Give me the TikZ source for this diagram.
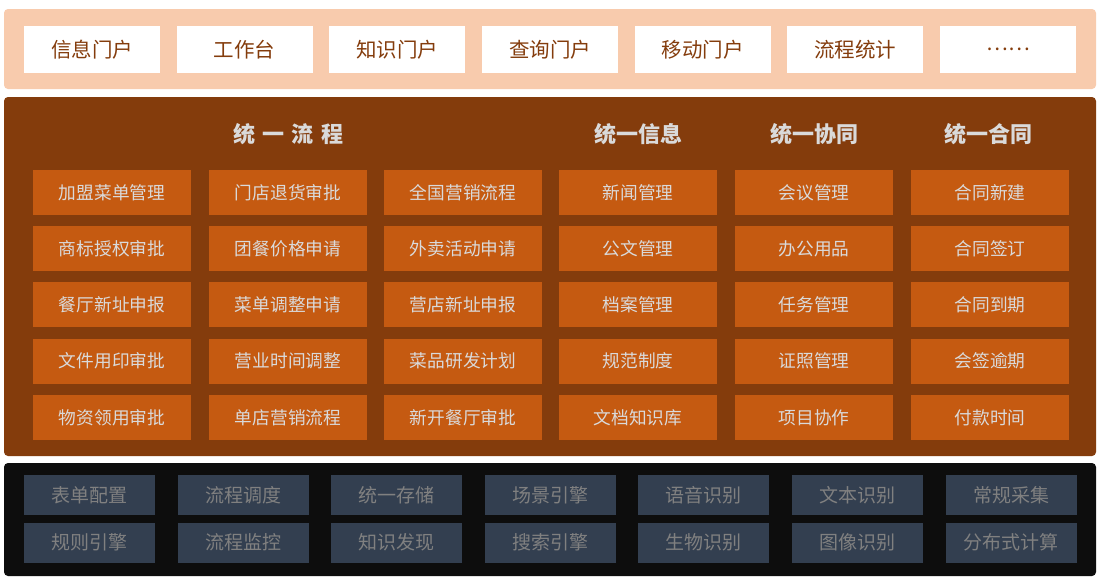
\documentclass[tikz,border=0pt]{standalone}
\usepackage{fontspec}
\setmainfont{Noto Sans CJK SC}
\definecolor{topband}{HTML}{F8CBAD}
\definecolor{brown}{HTML}{843C0C}
\definecolor{orangebox}{HTML}{C55A11}
\definecolor{lighttext}{HTML}{DADADA}
\definecolor{darkband}{HTML}{0D0D0D}
\definecolor{slatebox}{HTML}{333F50}
\definecolor{graytext}{HTML}{808080}
\begin{document}
\begin{tikzpicture}[x=1pt,y=-1pt,
  band/.style={rounded corners=4pt},
  topbox/.style={fill=white,minimum width=136pt,minimum height=47pt,inner sep=0pt,text=brown,font=\fontsize{20.5}{20.5}\selectfont},
  midbox/.style={fill=orangebox,minimum width=158pt,minimum height=45pt,inner sep=0pt,text=lighttext,font=\fontsize{17.7}{17.7}\selectfont},
  header/.style={text=lighttext,font=\fontsize{22}{22}\selectfont\bfseries,inner sep=0pt},
  botbox/.style={fill=slatebox,minimum width=131pt,minimum height=40pt,inner sep=0pt,text=graytext,font=\fontsize{19}{19}\selectfont}]
\useasboundingbox (0,0) rectangle (1102,582);
\fill[white] (0,0) rectangle (1102,582);
% bands
\fill[band,topband] (4,9) rectangle (1096,89);
\fill[band,brown] (4,97) rectangle (1096,456);
\fill[band,darkband] (4,463) rectangle (1096,576);
% top boxes
\foreach \t [count=\i from 0] in {信息门户,工作台,知识门户,查询门户,移动门户,流程统计,……}
  \node[topbox] (t\i) at ({92+152.67*\i},49.5) {\t};
% headers
\node[header] (h1) at (288,134) {统\,\,一\,\,流\,\,程};
\node[header] (h2) at (638,134) {统一信息};
\node[header] (h3) at (814,134) {统一协同};
\node[header] (h4) at (988,134) {统一合同};
% middle boxes
\foreach \a/\b/\c/\d/\e/\f [count=\j from 0] in {
  加盟菜单管理/门店退货审批/全国营销流程/新闻管理/会议管理/合同新建,
  商标授权审批/团餐价格申请/外卖活动申请/公文管理/办公用品/合同签订,
  餐厅新址申报/菜单调整申请/营店新址申报/档案管理/任务管理/合同到期,
  文件用印审批/营业时间调整/菜品研发计划/规范制度/证照管理/会签逾期,
  物资领用审批/单店营销流程/新开餐厅审批/文档知识库/项目协作/付款时间}
{
  \node[midbox] (m\j a) at (112,{192.5+56.2*\j}) {\a};
  \node[midbox] (m\j b) at (288,{192.5+56.2*\j}) {\b};
  \node[midbox] (m\j c) at (463,{192.5+56.2*\j}) {\c};
  \node[midbox] (m\j d) at (638,{192.5+56.2*\j}) {\d};
  \node[midbox] (m\j e) at (814,{192.5+56.2*\j}) {\e};
  \node[midbox] (m\j f) at (990,{192.5+56.2*\j}) {\f};
}
% bottom boxes
\foreach \t [count=\i from 0] in {表单配置,流程调度,统一存储,场景引擎,语音识别,文本识别,常规采集}
  \node[botbox] (ba\i) at ({89.5+153.6*\i},495) {\t};
\foreach \t [count=\i from 0] in {规则引擎,流程监控,知识发现,搜索引擎,生物识别,图像识别,分布式计算}
  \node[botbox] (bb\i) at ({89.5+153.6*\i},542.5) {\t};
\end{tikzpicture}
\end{document}
